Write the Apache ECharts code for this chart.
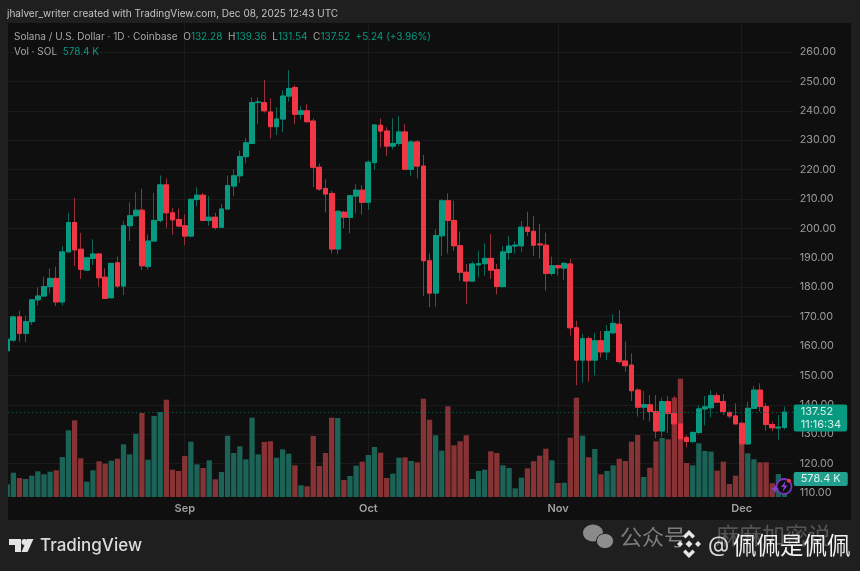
<!doctype html>
<html lang="en">
<head>
    <meta charset="UTF-8">
    <title>Solana / U.S. Dollar - 1D</title>
    <script src="https://cdn.jsdelivr.net/npm/echarts@6/dist/echarts.min.js"></script>
    <style>
        html, body { margin: 0; padding: 0; background: #1f1f1f; }
        #chart { width: 860px; height: 571px; }
    </style>
</head>
<body>
    <div id="chart"></div>

    <script>
        // --- data ---
        const firstDay = '2025-08-03';
        const monthStarts = ['2025-09-01', '2025-10-01', '2025-11-01', '2025-12-01'];
        const monthLabels = ['Sep', 'Oct', 'Nov', 'Dec'];
        const priceTicksFrom = 100, priceTicksTo = 270, priceStep = 10;
        const lastPrice = 137.52;
        const lastVolume = 578.4;

        const opens = [
            158.4,162.0,169.9,164.3,168.3,175.7,177.0,180.2,183.0,175.0,
            192.0,202.0,192.9,185.8,189.8,191.3,183.4,176.4,188.3,180.4,
            200.9,204.3,206.2,187.0,195.7,202.7,214.8,205.3,203.0,200.9,
            197.4,209.8,211.3,202.7,203.8,200.4,206.6,214.4,217.9,224.4,
            228.9,242.8,242.8,239.6,234.6,237.2,245.0,247.9,238.8,240.0,
            236.5,220.8,213.6,211.9,193.0,205.5,203.7,211.0,213.0,208.9,
            222.4,235.1,233.1,228.0,228.9,232.8,220.1,229.4,221.2,189.0,
            178.0,197.5,209.4,202.7,194.1,185.1,182.1,187.6,188.0,189.8,
            186.0,180.2,191.8,194.0,194.1,200.4,199.0,194.7,194.3,184.7,
            187.3,186.5,187.9,166.2,155.2,162.5,155.2,161.8,158.0,164.5,
            167.4,154.9,153.5,145.0,139.2,140.0,137.7,131.1,141.1,137.1,
            133.5,128.9,127.5,130.6,138.6,139.0,143.1,141.1,137.4,136.2,
            133.7,126.7,138.8,145.0,139.4,133.3,132.1,132.28
        ];
        const closes = [
            162.3,169.9,164.3,168.3,175.7,177.0,180.2,183.0,175.0,192.0,
            202.0,192.7,186.1,190.0,191.3,183.2,176.2,188.1,180.4,200.9,
            204.3,206.2,187.3,195.7,202.7,214.8,205.3,202.9,200.8,197.4,
            209.9,211.3,202.7,203.8,200.3,206.6,214.6,217.9,224.4,229.1,
            242.8,243.0,240.0,234.6,237.2,245.0,247.6,238.8,240.0,236.3,
            220.8,213.4,211.7,193.0,205.8,203.8,211.1,213.0,208.9,222.5,
            235.2,233.1,228.0,228.9,232.8,220.1,229.4,221.2,189.0,178.0,
            197.6,209.4,202.7,194.1,185.1,182.1,187.9,188.0,189.8,185.8,
            180.3,192.0,194.0,194.3,200.4,199.0,194.3,194.4,184.7,187.3,
            186.6,188.1,166.2,155.2,162.5,155.2,161.8,158.0,164.9,167.7,
            154.7,153.3,144.8,139.2,140.1,137.7,131.1,141.1,137.1,133.5,
            128.4,127.5,130.6,138.6,139.3,143.1,140.9,137.7,136.2,133.5,
            126.7,138.8,145.0,139.4,133.3,132.2,132.4,137.52
        ];
        const lows = [
            156.6,161.3,161.5,161.3,167.1,173.8,176.7,177.9,173.6,173.8,
            192.0,187.2,182.8,185.6,187.6,180.2,176.0,176.2,179.6,177.3,
            195.7,204.0,185.8,186.0,195.5,202.0,200.2,197.8,200.5,194.4,
            197.0,207.6,202.5,200.9,199.6,200.3,206.3,211.0,215.5,222.1,
            228.7,235.5,239.4,230.6,231.8,232.7,243.1,235.5,237.1,236.0,
            214.0,212.8,205.4,191.5,191.2,200.0,198.3,205.1,204.7,206.3,
            219.9,227.6,224.6,226.9,228.0,220.0,217.8,217.0,177.0,173.2,
            173.4,190.6,191.5,192.3,182.2,174.3,182.0,183.4,183.9,182.8,
            177.6,180.0,189.3,191.5,192.0,197.5,190.7,189.8,178.8,184.0,
            184.0,182.4,163.5,146.7,147.5,147.9,150.0,156.0,155.2,164.0,
            154.0,151.3,141.3,136.0,134.8,134.3,128.6,129.0,130.4,130.4,
            121.8,125.5,127.0,130.0,133.0,135.7,140.7,136.5,135.4,133.5,
            122.9,126.5,138.6,137.7,131.2,131.0,128.0,131.54
        ];
        const highs = [
            162.6,170.3,172.0,170.3,175.9,180.0,183.6,186.4,187.0,194.0,
            205.3,210.4,198.5,190.0,196.3,191.4,186.4,188.2,190.4,202.6,
            208.8,212.3,213.5,198.0,212.1,218.0,217.0,207.0,206.7,204.8,
            210.0,214.0,212.0,211.0,205.3,208.4,218.0,220.0,226.4,230.7,
            244.6,244.6,250.5,244.2,241.2,247.0,253.9,248.8,241.6,242.3,
            237.4,222.1,216.7,212.8,206.2,206.0,211.3,215.0,214.7,223.1,
            235.3,237.4,234.4,237.4,238.2,235.5,230.0,230.0,225.0,191.5,
            199.8,210.0,211.9,209.4,199.0,187.9,188.7,192.4,194.9,198.1,
            187.9,194.0,197.4,195.6,202.5,205.7,204.3,201.6,198.6,190.4,
            187.6,188.6,189.6,168.6,164.1,163.2,164.5,165.1,167.1,170.8,
            172.2,161.5,157.5,145.6,144.7,143.3,143.3,142.4,143.0,143.0,
            139.9,129.7,131.0,139.9,143.0,145.0,144.1,143.7,137.7,140.5,
            134.3,141.1,146.4,147.3,140.5,134.3,136.5,139.36
        ];
        // volume in thousands of SOL
        const volumes = [
            406,778,608,576,682,822,726,810,854,1280,
            2134,2454,1238,490,854,1142,1066,1162,1226,1686,
            1366,2026,2688,1194,2592,2720,3114,874,832,1312,
            1770,1046,928,1174,566,800,1962,1408,1622,1206,
            2538,1366,1760,1782,1258,1526,1386,1014,374,342,
            1952,992,1408,2538,2528,544,672,1002,1130,1344,
            1600,1418,608,746,1258,1270,1152,1110,3146,2474,
            1974,1482,2902,1654,1782,1974,576,832,874,1462,
            1408,1014,928,278,618,918,1142,1322,1546,1174,
            448,458,1898,3178,1962,1270,1536,726,832,1014,
            1226,1152,1770,1984,640,938,1782,1888,1846,3178,
            3786,1088,1014,1718,1472,1450,842,1130,416,682,
            1728,1398,1206,1110,1110,438,736,578.4
        ];

        // --- colours ---
        const upColor = '#089981', downColor = '#f23645';
        const upWick = '#0b6a5b', downWick = '#99303a';
        const upVolume = '#1b6357', downVolume = '#873235';
        const gridColor = '#1b1b1b', panelColor = '#0f0f0f', pageColor = '#1f1f1f';
        const uiFont = 'Inter, "Noto Sans", sans-serif';
        const cjkFont = '"Noto Sans CJK SC", sans-serif';

        // one category per day, plus one empty slot on the right
        const days = [];
        const startDate = new Date(firstDay + 'T00:00:00Z');
        for (let i = 0; i <= closes.length; i++) {
            days.push(new Date(startDate.getTime() + i * 86400000).toISOString().slice(0, 10));
        }

        const wickData = closes.map((c, i) => [opens[i], c, lows[i], highs[i]]);
        const bodyData = closes.map((c, i) => [opens[i], c, Math.min(opens[i], c), Math.max(opens[i], c)]);
        const volumeData = volumes.map((v, i) => ({
            value: v,
            itemStyle: { color: closes[i] >= opens[i] ? upVolume : downVolume }
        }));

        const chart = echarts.init(document.getElementById('chart'), null, { renderer: 'canvas' });
        chart.setOption({
            animation: false,
            backgroundColor: pageColor,
            title: [
                {
                    text: 'jhalver_writer created with TradingView.com, Dec 08, 2025 12:43 UTC',
                    left: 7, top: 9, padding: 0,
                    textStyle: { color: '#c4c4c4', fontSize: 10, fontWeight: 'normal', fontFamily: uiFont }
                },
                {
                    text: 'Solana / U.S. Dollar · 1D · Coinbase  O{v|132.28}  H{v|139.36}  L{v|131.54}  C{v|137.52}  {v|+5.24 (+3.96%)}',
                    left: 14, top: 32, padding: 0,
                    textStyle: {
                        color: '#a8a8a8', fontSize: 10, fontWeight: 'normal', fontFamily: uiFont,
                        rich: { v: { color: upColor, fontSize: 10, fontFamily: uiFont } }
                    }
                },
                {
                    text: 'Vol · SOL  {v|578.4 K}',
                    left: 14, top: 47, padding: 0,
                    textStyle: {
                        color: '#a8a8a8', fontSize: 10, fontWeight: 'normal', fontFamily: uiFont,
                        rich: { v: { color: upColor, fontSize: 10, fontFamily: uiFont } }
                    }
                }
            ],
            grid: [
                { left: 4.2, width: 789.48, top: 22.6, height: 499.8 },
                { left: 4.2, width: 789.48, top: 23, height: 474 }
            ],
            xAxis: [
                {
                    type: 'category', gridIndex: 0, data: days,
                    axisLine: { show: false }, axisTick: { show: false }, axisLabel: { show: false }
                },
                {
                    type: 'category', gridIndex: 1, data: days,
                    axisLine: { show: false }, axisTick: { show: false },
                    axisLabel: {
                        margin: 6,
                        color: '#a0a0a0', fontSize: 11, fontWeight: 600, fontFamily: uiFont,
                        interval: (i, day) => monthStarts.includes(day),
                        formatter: day => monthLabels[monthStarts.indexOf(day)]
                    }
                }
            ],
            yAxis: [
                {
                    type: 'value', gridIndex: 0, position: 'right',
                    min: priceTicksFrom, max: priceTicksTo, interval: priceStep,
                    axisLine: { show: false }, axisTick: { show: false },
                    splitLine: { lineStyle: { color: gridColor }, showMinLine: false, showMaxLine: false },
                    axisLabel: {
                        margin: 6, showMinLabel: false, showMaxLabel: false,
                        color: '#9c9c9c', fontSize: 10.8, fontFamily: uiFont,
                        formatter: v => v.toFixed(2)
                    }
                },
                {
                    type: 'value', gridIndex: 1, min: 0, max: 15168,
                    axisLine: { show: false }, axisTick: { show: false },
                    axisLabel: { show: false }, splitLine: { show: false }
                }
            ],
            series: [
                {
                    name: 'Vol', type: 'bar', xAxisIndex: 1, yAxisIndex: 1, z: 2,
                    barWidth: 5.3, data: volumeData,
                    markLine: {
                        silent: true, symbol: 'none', z: 1, animation: false,
                        lineStyle: { color: gridColor, type: 'solid', width: 1 },
                        label: { show: false },
                        data: monthStarts.map(d => ({ xAxis: d })).concat([{
                            // last volume tag on the price scale side, line itself hidden
                            yAxis: lastVolume,
                            lineStyle: { color: 'transparent' },
                            label: {
                                show: true, position: 'end', distance: 0,
                                formatter: lastVolume + ' K',
                                backgroundColor: '#22a08e', color: '#dff3ef',
                                fontSize: 11, fontFamily: uiFont,
                                padding: [2, 7, 1, 7], borderRadius: 2, lineHeight: 11
                            }
                        }])
                    }
                },
                {
                    name: 'wicks', type: 'candlestick', xAxisIndex: 0, yAxisIndex: 0, z: 3,
                    barWidth: 5.3, data: wickData,
                    itemStyle: {
                        color: upWick, color0: downWick,
                        borderColor: upWick, borderColor0: downWick, borderWidth: 1
                    }
                },
                {
                    name: 'SOL', type: 'candlestick', xAxisIndex: 0, yAxisIndex: 0, z: 4,
                    barWidth: 5.3, data: bodyData,
                    itemStyle: {
                        color: upColor, color0: downColor,
                        borderColor: upColor, borderColor0: downColor, borderWidth: 1
                    },
                    markLine: {
                        silent: true, symbol: 'none', animation: false,
                        lineStyle: { color: '#0c6b5c', type: [1, 3], width: 1 },
                        label: {
                            position: 'end', distance: 0, offset: [0, 6],
                            formatter: lastPrice.toFixed(2) + '\n11:16:34',
                            backgroundColor: upColor, color: '#d7f0ea',
                            fontSize: 11, fontFamily: uiFont, lineHeight: 13,
                            padding: [1, 6, 0, 7], borderRadius: 2
                        },
                        data: [{ yAxis: lastPrice }]
                    }
                }
            ],
            graphic: [
                // dark chart panel, and the strip that cuts the first candle at its left edge
                { type: 'rect', z: -10, silent: true, shape: { x: 8, y: 23, width: 843, height: 497 }, style: { fill: panelColor } },
                { type: 'rect', z: 100, silent: true, shape: { x: 0, y: 23, width: 8, height: 497 }, style: { fill: pageColor } },

                // TradingView logo
                { type: 'polygon', z: 101, silent: true, shape: { points: [[9, 539], [21, 539], [21, 552], [15, 552], [15, 545], [9, 545]] }, style: { fill: '#e4e4e4' } },
                { type: 'circle', z: 101, silent: true, shape: { cx: 24.5, cy: 542, r: 3 }, style: { fill: '#e4e4e4' } },
                { type: 'polygon', z: 101, silent: true, shape: { points: [[27, 539], [33.5, 539], [27.5, 552], [21.5, 552]] }, style: { fill: '#e4e4e4' } },
                { type: 'text', z: 101, silent: true, style: { x: 40, y: 546, text: 'TradingView', verticalAlign: 'middle', fill: '#dcdcdc', fontSize: 17, fontWeight: 500, fontFamily: uiFont } },

                // notification badge over the volume tag corner
                { type: 'circle', z: 101, silent: true, shape: { cx: 784, cy: 486.5, r: 7.5 }, style: { fill: '#0f0f0f', stroke: '#7636c0', lineWidth: 1.8 } },
                { type: 'polygon', z: 101, silent: true, shape: { points: [[785.5, 481], [781, 487], [784, 487], [782.5, 492], [787.5, 485.5], [784.5, 485.5]] }, style: { fill: '#8442d0' } },
                { type: 'polygon', z: 101, silent: true, shape: { points: [[775, 484.5], [776.2, 488], [779.5, 489], [776.2, 490], [775, 493.5], [773.8, 490], [770.5, 489], [773.8, 488]] }, style: { fill: '#8442d0' } },
                { type: 'circle', z: 102, silent: true, shape: { cx: 789, cy: 480.7, r: 2 }, style: { fill: '#f23645' } },

                // watermark, bottom right
                { type: 'ellipse', z: 101, silent: true, shape: { cx: 593, cy: 533, rx: 10, ry: 8.5 }, style: { fill: '#8a8a8a' } },
                { type: 'ellipse', z: 101, silent: true, shape: { cx: 605, cy: 541, rx: 8.5, ry: 7.5 }, style: { fill: '#8e8e8e', stroke: pageColor, lineWidth: 1 } },
                { type: 'text', z: 101, silent: true, style: { x: 620, y: 537, text: '公众号', verticalAlign: 'middle', fill: '#7c7c7c', fontSize: 22, fontFamily: cjkFont } },
                { type: 'text', z: 101, silent: true, style: { x: 716, y: 535, text: '麻麻加密说', verticalAlign: 'middle', fill: '#545454', fontSize: 23, fontFamily: cjkFont } },
                { type: 'polygon', z: 102, silent: true, shape: { points: [[689, 530], [695, 536], [692.5, 538.5], [689, 535], [685.5, 538.5], [683, 536]] }, style: { fill: '#e6e6e6' } },
                { type: 'polygon', z: 102, silent: true, shape: { points: [[689, 558], [695, 552], [692.5, 549.5], [689, 553], [685.5, 549.5], [683, 552]] }, style: { fill: '#e6e6e6' } },
                { type: 'polygon', z: 102, silent: true, shape: { points: [[689, 540.5], [692.5, 544], [689, 547.5], [685.5, 544]] }, style: { fill: '#e6e6e6' } },
                { type: 'polygon', z: 102, silent: true, shape: { points: [[680, 541], [683, 544], [680, 547], [677, 544]] }, style: { fill: '#e6e6e6' } },
                { type: 'polygon', z: 102, silent: true, shape: { points: [[698, 541], [701, 544], [698, 547], [695, 544]] }, style: { fill: '#e6e6e6' } },
                { type: 'text', z: 102, silent: true, style: { x: 708, y: 545, text: '@', verticalAlign: 'middle', fill: '#d8d8d8', fontSize: 22, fontFamily: uiFont } },
                { type: 'text', z: 102, silent: true, style: { x: 733, y: 545, text: '佩佩是佩佩', verticalAlign: 'middle', fill: '#f2f2f2', fontSize: 23.5, fontFamily: cjkFont } }
            ]
        });
    </script>
</body>
</html>
